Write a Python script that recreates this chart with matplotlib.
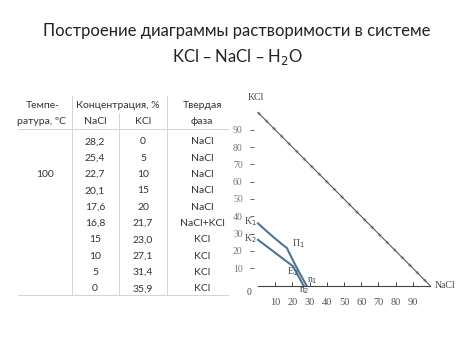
import matplotlib
matplotlib.use("Agg")
import matplotlib.pyplot as plt

W, H = 474, 355

# table data (100 °C)
temp = "100"
nacl = ["28,2", "25,4", "22,7", "20,1", "17,6", "16,8", "15", "10", "5", "0"]
kcl = ["0", "5", "10", "15", "20", "21,7", "23,0", "27,1", "31,4", "35,9"]
phase = ["NaCl", "NaCl", "NaCl", "NaCl", "NaCl", "NaCl+KCl", "KCl", "KCl", "KCl", "KCl"]

# diagram curves: x = NaCl %, y = KCl %
iso1_nacl = [28.2, 25.4, 22.7, 20.1, 17.6, 16.8, 15, 10, 5, 0]
iso1_kcl = [0, 5, 10, 15, 20, 21.7, 23.0, 27.1, 31.4, 35.9]
iso2_nacl = [26.4, 20.4, 0]
iso2_kcl = [0, 11.1, 26.4]
ticks = [10, 20, 30, 40, 50, 60, 70, 80, 90]

SANS = "Lato"
SERIF = "Liberation Serif"
TXT = "#333333"
GRID = "#d4d4d4"
TFS = 7.5

fig = plt.figure(figsize=(W / 100, H / 100), dpi=100)
fig.patch.set_facecolor("white")


def px(x, y):
    return x / W, 1 - y / H


# title
fig.text(*px(237, 31), "Построение диаграммы растворимости в системе",
         ha="center", va="center", fontsize=12, family=SANS, color="#222222")
fig.text(*px(237, 57), "KCl – NaCl – H$_2$O", ha="center", va="center",
         fontsize=12, family=SANS, color="#222222")

# table
hdr = [(43, 105, "Темпе-"), (41, 121.7, "ратура, ºС"), (118, 105, "Концентрация, %"),
       (95, 121.7, "NaCl"), (143, 121.7, "KCl"), (202, 105, "Твердая"), (202, 121.7, "фаза")]
for x, y, s in hdr:
    fig.text(*px(x, y), s, ha="center", va="center", fontsize=TFS, family=SANS, color=TXT)

y0, dy = 141.7, 16.35
for i in range(len(nacl)):
    y = y0 + i * dy
    fig.text(*px(95, y), nacl[i], ha="center", va="center", fontsize=TFS, family=SANS, color=TXT)
    fig.text(*px(143, y), kcl[i], ha="center", va="center", fontsize=TFS, family=SANS, color=TXT)
    fig.text(*px(202, y), phase[i], ha="center", va="center", fontsize=TFS, family=SANS, color=TXT)
fig.text(*px(45, y0 + 2 * dy), temp, ha="center", va="center", fontsize=TFS, family=SANS, color=TXT)

lines = [((18, 129.5), (228, 129.5)), ((18, 295), (228, 295)),
         ((71.7, 96), (71.7, 295)), ((119.3, 113), (119.3, 295)), ((166.7, 96), (166.7, 295))]
for (xa, ya), (xb, yb) in lines:
    fig.add_artist(plt.Line2D([xa / W, xb / W], [1 - ya / H, 1 - yb / H], color=GRID, lw=0.7))

# solubility diagram
ax = fig.add_axes([258 / W, 1 - 285.5 / H, 172 / W, 173 / H])
ax.set_xlim(0, 100)
ax.set_ylim(0, 100)
ax.patch.set_alpha(0)
for s in ["top", "right"]:
    ax.spines[s].set_visible(False)
ax.spines["left"].set_position(("outward", 3))
ax.spines["left"].set_visible(False)
ax.spines["bottom"].set_linewidth(0.8)
ax.spines["bottom"].set_color("#444444")

ax.plot([0, 100], [100, 0], color="#bbbbbb", lw=2.2, ls=(0, (1, 2.5)), clip_on=False)
ax.plot([0, 100], [100, 0], color="#444444", lw=0.7, clip_on=False)
ax.plot(iso1_nacl, iso1_kcl, color="#4f7595", lw=1.5, clip_on=False)
ax.plot(iso2_nacl, iso2_kcl, color="#4f7595", lw=1.5, clip_on=False)

ax.set_xticks(ticks)
ax.set_yticks(ticks)
ax.set_xticklabels([str(t) for t in ticks])
ax.set_yticklabels([str(t) for t in ticks])
ax.tick_params(axis="x", direction="in", length=3, width=0.7, colors="#444444", pad=9,
               labelsize=7.5, labelcolor="#555555")
ax.tick_params(axis="y", direction="out", length=3, width=0.7, colors="#666666", pad=5,
               labelsize=7, labelcolor="#777777")
for lab in ax.get_xticklabels() + ax.get_yticklabels():
    lab.set_family(SERIF)

kw = dict(fontsize=7, family=SERIF, color="#444444", clip_on=False)
ax.text(-1, 106, "KCl", ha="center", va="bottom", **kw)
ax.text(103, 0, "NaCl", ha="left", va="center", **kw)
ax.text(-5, -4, "0", ha="center", va="center", **kw)
ax.text(-1, 37, "K$_1$", ha="right", va="center", **kw)
ax.text(-1, 27, "K$_2$", ha="right", va="center", **kw)
ax.text(19.5, 24, "П$_1$", ha="left", va="center", **kw)
ax.text(17, 8, "E$_2$", ha="left", va="center", **kw)
ax.text(28.5, 3, "n$_1$", ha="left", va="center", **kw)
ax.text(24, -3, "n$_2$", ha="left", va="center", **kw)

fig.savefig("out.png", dpi=100)
